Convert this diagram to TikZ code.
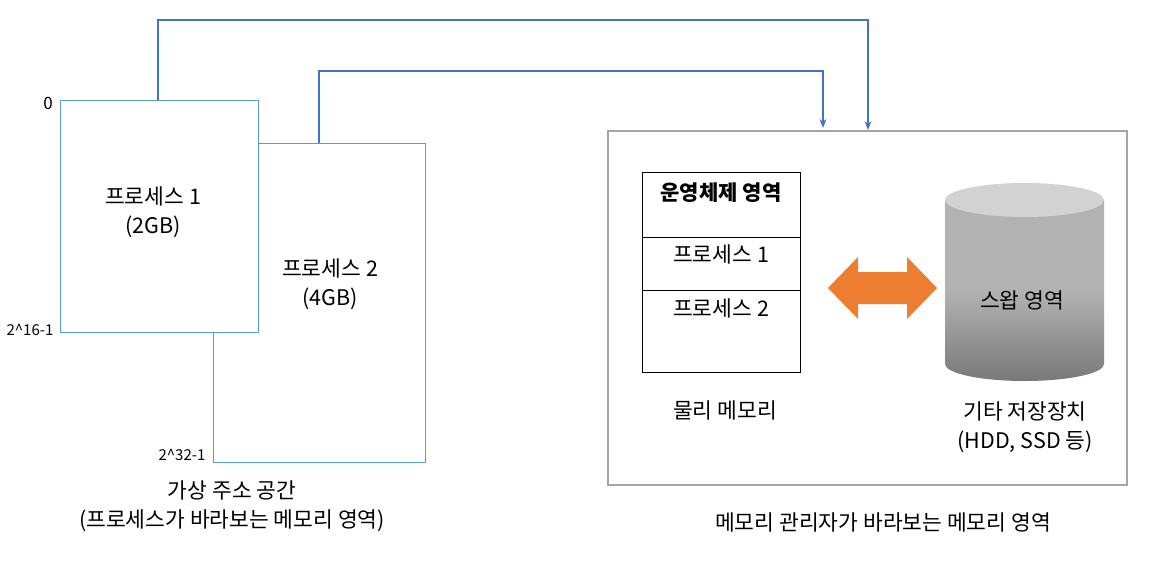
\documentclass[tikz,border=0pt]{standalone}
\usepackage{fontspec}
\setmainfont{Noto Sans CJK KR}
\usetikzlibrary{arrows.meta}
\definecolor{lblue}{HTML}{5B9BD5}
\definecolor{cblue}{HTML}{4472C4}
\definecolor{orng}{HTML}{ED7D31}
\begin{document}
\begin{tikzpicture}[x=1pt,y=-1pt,
  lbl/.style={font=\fontsize{21.5}{29}\selectfont,align=center,inner sep=0pt},
  small/.style={font=\fontsize{15}{17}\selectfont,inner sep=0pt},
  conn/.style={cblue,line width=1.3pt,-{Stealth[length=9pt,width=7pt]}}]
\useasboundingbox (0,0) rectangle (1149,581);
% process 2 and 1
\node[draw=lblue,minimum width=212pt,minimum height=319pt,inner sep=0pt,anchor=north west] (p2) at (213,143) {};
\node[draw=lblue,fill=white,minimum width=198pt,minimum height=232pt,inner sep=0pt,anchor=north west] (p1) at (60,100) {};
\node[lbl] (t1) at (153,212) {프로세스 1\\(2GB)};
\node[lbl] (t2) at (330,284) {프로세스 2\\(4GB)};
\node[small,font=\fontsize{17}{19}\selectfont] (z) at (48,103) {0};
\node[small] (a16) at (30,330) {2\textasciicircum16-1};
\node[small] (a32) at (182,455) {2\textasciicircum32-1};
\node[lbl] (cap1) at (232,506) {가상 주소 공간\\(프로세스가 바라보는 메모리 영역)};
% right box
\node[draw=gray!70,line width=2pt,fill=white,minimum width=519pt,minimum height=354pt,inner sep=0pt,anchor=north west] (rb) at (607,130) {};
\draw[line width=0.8pt] (642,172) rectangle (800,372);
\draw[line width=0.8pt] (642,237) -- (800,237) (642,290) -- (800,290);
\node[lbl,font=\fontsize{21}{24}\selectfont\bfseries] (os) at (721,193) {운영체제 영역};
\node[lbl] (m1) at (721,254) {프로세스 1};
\node[lbl] (m2) at (721,308) {프로세스 2};
\node[lbl] (pm) at (725,410) {물리 메모리};
\fill[orng] (828,288) -- (858,257) -- (858,272) -- (907,272) -- (907,257) -- (937,288) -- (907,319) -- (907,304) -- (858,304) -- (858,319) -- cycle;
% cylinder
\shade[top color=gray!60,bottom color=gray!95!black,middle color=gray!60] (945,200) -- (945,364) arc[x radius=79.5,y radius=17,start angle=180,end angle=0] -- (1104,200) -- cycle;
\fill[gray!35] (1024.5,200) ellipse[x radius=79.5,y radius=17];
\node[lbl] (sw) at (1022,300) {스왑 영역};
\node[lbl] (st) at (1025,427) {기타 저장장치\\(HDD, SSD 등)};
\node[lbl] (cap2) at (883,522) {메모리 관리자가 바라보는 메모리 영역};
% connectors
\coordinate (c1) at (868,130);
\coordinate (c2) at (823,128);
\draw[conn] (p1.north west -| 158,0) -- (158,20) -- (868,20) -- (c1);
\draw[conn] (p2.north west -| 319,0) -- (319,71) -- (823,71) -- (c2);
\end{tikzpicture}
\end{document}
